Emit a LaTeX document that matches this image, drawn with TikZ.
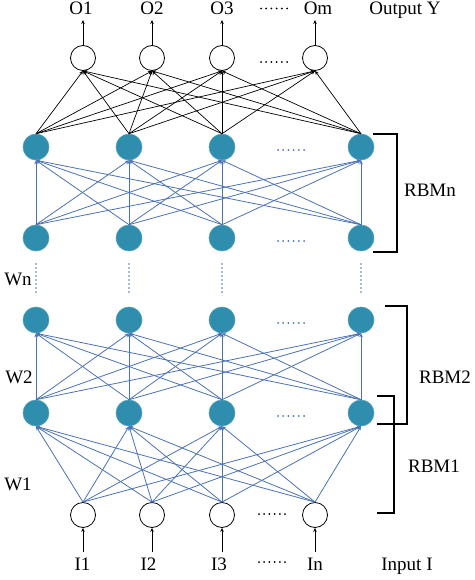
\documentclass[tikz,border=0pt]{standalone}
\usepackage{fontspec}
\setmainfont{Liberation Serif}
\usetikzlibrary{arrows.meta}
\definecolor{nodeteal}{HTML}{2F8EAE}
\definecolor{edgeblue}{HTML}{4A72B8}
\begin{document}
\begin{tikzpicture}[x=1pt,y=-1pt,
  hid/.style={circle,fill=nodeteal,draw=nodeteal!85!white,line width=0.6pt,minimum size=26pt,inner sep=0pt},
  io/.style={circle,draw=black,fill=white,minimum size=25pt,inner sep=0pt,line width=0.8pt},
  bedge/.style={edgeblue,line width=0.8pt,-{Stealth[length=4pt,width=3.5pt]}},
  kedge/.style={black,line width=0.7pt,-{Stealth[length=4pt,width=3.5pt]}},
  lbl/.style={font=\fontsize{19}{22}\selectfont,anchor=base,inner sep=0pt},
  bracketline/.style={black,line width=1.1pt},
  hdots/.style={line width=2pt,line cap=round,dash pattern=on 0pt off 5.2pt},
  vdots/.style={edgeblue,line width=1.6pt,line cap=round,dash pattern=on 0pt off 4pt}
]
\useasboundingbox (0,0) rectangle (474,580);

% hidden layers
\foreach \i/\x in {1/36,2/129,3/222,4/361} {
  \node[hid] (a\i) at (\x,147) {};
  \node[hid] (b\i) at (\x,238) {};
  \node[hid] (c\i) at (\x,320) {};
  \node[hid] (d\i) at (\x,413) {};
}
% input / output nodes
\foreach \i/\x in {1/83,2/152,3/222,4/315} {
  \node[io] (o\i) at (\x,58) {};
  \node[io] (in\i) at (\x,515) {};
}

% output labels
\node[lbl] (ol1) at (81,15) {O1};
\node[lbl] (ol2) at (152,15) {O2};
\node[lbl] (ol3) at (222,15) {O3};
\node[lbl] (ol4) at (318,15) {Om};
\node[lbl] (outy) at (405,15) {Output Y};
% input labels
\node[lbl] (il1) at (82.5,570) {I1};
\node[lbl] (il2) at (148.5,570) {I2};
\node[lbl] (il3) at (219,570) {I3};
\node[lbl] (il4) at (315,570) {In};
\node[lbl] (inpi) at (407,570) {Input I};
% weight labels
\node[lbl] (wn) at (18,285) {Wn};
\node[lbl] (w2) at (19,383) {W2};
\node[lbl] (w1) at (18,490) {W1};
% RBM labels
\node[lbl] (rbmn) at (430,196) {RBMn};
\node[lbl] (rbm2) at (445,383) {RBM2};
\node[lbl] (rbm1) at (434,472) {RBM1};

% output arrows
\foreach \i/\x in {1/83,2/152,3/222,4/315} {
  \coordinate (ot\i) at (\x,20);
  \coordinate (ib\i) at (\x,552);
  \draw[kedge] (o\i.north) -- (ot\i);
  \draw[kedge] (ib\i) -- (in\i.south);
}

% connections
\foreach \i in {1,...,4} {
  \foreach \j in {1,...,4} {
    \draw[bedge] (b\i.north) -- (a\j.south);
    \draw[bedge] (d\i.north) -- (c\j.south);
    \draw[bedge] (in\i.north) -- (d\j.south);
    \draw[kedge] (a\i.north) -- (o\j.south);
  }
}

% horizontal dots
\foreach \y in {150,241,323,416} {
  \draw[hdots,edgeblue] (278,\y) -- (304.2,\y);
}
\draw[hdots,black] (261,8.5) -- (287.2,8.5);
\draw[hdots,black] (261,62) -- (287.2,62);
\draw[hdots,black] (259,514) -- (285.2,514);
\draw[hdots,black] (259,562) -- (285.2,562);

% vertical dots
\foreach \x in {36,129,222,361} {
  \draw[vdots] (\x,264) -- (\x,292.2);
}

% brackets
\draw[bracketline] (373,134) -- (397,134) -- (397,252) -- (373,252);
\draw[bracketline] (385,306) -- (407,306) -- (407,424) -- (377,424);
\draw[bracketline] (377,396) -- (394,396) -- (394,513) -- (377,513);
\end{tikzpicture}
\end{document}
